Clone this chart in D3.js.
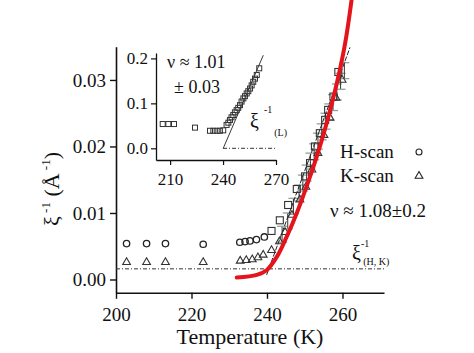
<!DOCTYPE html>
<html><head><meta charset="utf-8">
<script src="https://cdn.jsdelivr.net/npm/d3@7"></script>
<style>body{margin:0;background:#fff}svg{display:block}text{font-family:"Liberation Serif","Times New Roman",serif;fill:#111}</style>
</head><body><svg id="c" width="474" height="353"></svg>
<script>
// ---- main plot data ----
const xTicksMain = [200, 220, 240, 260];
const yTicksMain = [0.00, 0.01, 0.02, 0.03];
const hFlatT = [202.8, 208.1, 213.1, 223.1, 232.8, 234.2, 235.5, 237.2, 239.3];
const hFlatV = [0.0054, 0.0054, 0.0054, 0.0053, 0.0056, 0.0057, 0.0058, 0.0060, 0.0064];
const kFlatT = [202.8, 208.1, 213.1, 223.1, 232.9, 234.5, 236.1, 237.6, 239.0];
const kFlatV = [0.0026, 0.0026, 0.0026, 0.0026, 0.0028, 0.0029, 0.0030, 0.0033, 0.0037];
const sqT = [241.2, 243.4, 245.6, 247.9, 250.1, 251.4, 252.7, 254.0, 255.4, 256.2, 257.6, 258.9];
const sqV = [0.0073, 0.0089, 0.0112, 0.0136, 0.0155, 0.0175, 0.0200, 0.0220, 0.0240, 0.0255, 0.0275, 0.0312];
const triT = [241.2, 243.3, 244.8, 246.6, 248.7, 250.3, 251.9, 253.5, 255.1, 256.7, 258.3, 259.9];
const triV = [0.0044, 0.0057, 0.0071, 0.0097, 0.0120, 0.0139, 0.0165, 0.0190, 0.0217, 0.0243, 0.0273, 0.0300];
const errT = [244.0, 245.5, 247.0, 248.5, 249.5, 250.5, 251.5, 252.5, 253.5, 254.5, 255.5, 256.5, 257.5, 258.5, 259.5, 260.5];
const errV = [0.0068, 0.0088, 0.0110, 0.0130, 0.0145, 0.0160, 0.0178, 0.0192, 0.0208, 0.0222, 0.0238, 0.0252, 0.0266, 0.0282, 0.0298, 0.0314];
const fitT = [239.9, 262.0];
const fitV = [0.0007, 0.0349];
const baseT = [200, 271];
const baseV = [0.0016, 0.0016];
const redT = [232.0, 237.3, 239.9, 242.6, 245.2, 247.9, 250.5, 253.2, 255.8, 258.5, 260.7, 262.4];
const redV = [0.0003, 0.0007, 0.0014, 0.0034, 0.0064, 0.0100, 0.0140, 0.0185, 0.0235, 0.0295, 0.0355, 0.0420];
// ---- inset data ----
const insXTicks = [210, 240, 270];
const insYTicks = [0.0, 0.1, 0.2];
const insT = [205.8, 209.0, 212.2, 224.1, 232.6, 234.5, 236.4, 238.2, 240.1, 242.0, 243.0, 243.9, 244.8, 245.8, 246.7, 247.7, 248.6, 249.6, 250.5, 251.5, 252.4, 253.4, 254.3, 255.3, 256.2, 257.1, 258.1, 259.1, 260.5];
const insV = [0.054, 0.054, 0.054, 0.046, 0.039, 0.039, 0.039, 0.039, 0.040, 0.052, 0.057, 0.063, 0.069, 0.074, 0.080, 0.085, 0.090, 0.096, 0.104, 0.111, 0.116, 0.122, 0.127, 0.133, 0.140, 0.148, 0.155, 0.163, 0.178];
const insFitT = [240.1, 262.8];
const insFitV = [0.0, 0.207];
const insBaseT = [240, 270];
const insBaseV = [0.0, 0.0];

const svg = d3.select("#c");
const x = d3.scaleLinear().domain([200, 271]).range([116, 384]);
const y = d3.scaleLinear().domain([-0.002, 0.035]).range([292.8, 46.7]);

// axes
const xAxis = d3.axisBottom(x).tickValues(xTicksMain).tickFormat(d3.format("d")).tickSize(6).tickSizeOuter(0);
const xMinor = d3.axisBottom(x).tickValues(d3.range(200, 271, 4)).tickFormat("").tickSize(4).tickSizeOuter(0);
const gx = svg.append("g").attr("transform", "translate(0,292.8)");
gx.call(xMinor); gx.call(xAxis);
const yAxis = d3.axisLeft(y).tickValues(yTicksMain).tickFormat(d3.format(".2f")).tickSize(6).tickSizeOuter(0);
const yMinor = d3.axisLeft(y).tickValues(d3.range(0, 0.0351, 0.0025)).tickFormat("").tickSize(4).tickSizeOuter(0);
const gy = svg.append("g").attr("transform", "translate(116,0)");
gy.call(yMinor); gy.call(yAxis);
[gx, gy].forEach(g => {
  g.selectAll("path").attr("stroke", "#111").attr("stroke-width", 1.6);
  g.selectAll("line").attr("stroke", "#111").attr("stroke-width", 1.4);
  g.selectAll("text").style("font-size", "19px").attr("fill", "#111");
});
gx.selectAll("text").attr("dy", "1.0em");
gy.selectAll("text").attr("dx", "-1px");

// axis titles
svg.append("text").attr("x", 250).attr("y", 344).attr("text-anchor", "middle").style("font-size", "22px").text("Temperature (K)");
const yt = svg.append("text").attr("transform", "translate(59,189) rotate(-90)").attr("text-anchor", "middle").style("font-size", "22px");
yt.append("tspan").text("ξ");
yt.append("tspan").attr("dy", -9).style("font-size", "13px").text(" -1");
yt.append("tspan").attr("dy", 9).text(" (Å");
yt.append("tspan").attr("dy", -9).style("font-size", "13px").text(" -1");
yt.append("tspan").attr("dy", 9).text(")");

// baseline dash-dot
const line = d3.line().x(d => x(d[0])).y(d => y(d[1]));
svg.append("path").datum(d3.zip(baseT, baseV)).attr("d", line).attr("fill", "none").attr("stroke", "#333").attr("stroke-width", 1).attr("stroke-dasharray", "4,2,1,2");

// error bars
const eg = svg.append("g");
d3.zip(errT, errV).forEach(([t, v]) => {
  const cx = x(t);
  eg.append("line").attr("x1", cx).attr("x2", cx).attr("y1", y(v + 0.0012)).attr("y2", y(v - 0.0012)).attr("stroke", "#333").attr("stroke-width", 1);
  [v + 0.0012, v - 0.0012].forEach(e => eg.append("line").attr("x1", cx - 5).attr("x2", cx + 5).attr("y1", y(e)).attr("y2", y(e)).attr("stroke", "#8fa39a").attr("stroke-width", 1.3));
});

// fit line
svg.append("path").datum(d3.zip(fitT, fitV)).attr("d", line).attr("fill", "none").attr("stroke", "#222").attr("stroke-width", 1).attr("stroke-dasharray", "5,1.5");

// markers
const circ = svg.append("g");
d3.zip(hFlatT, hFlatV).forEach(([t, v]) => circ.append("circle").attr("cx", x(t)).attr("cy", y(v)).attr("r", 3.2).attr("fill", "none").attr("stroke", "#222").attr("stroke-width", 1.3));
const sq = svg.append("g");
d3.zip(sqT, sqV).forEach(([t, v]) => sq.append("rect").attr("x", x(t) - 3.5).attr("y", y(v) - 3.5).attr("width", 7).attr("height", 7).attr("fill", "none").attr("stroke", "#333").attr("stroke-width", 1.1));
const triPath = d3.symbol().type(d3.symbolTriangle).size(26);
const tri = svg.append("g");
d3.zip(kFlatT.concat(triT), kFlatV.concat(triV)).forEach(([t, v]) => tri.append("path").attr("d", triPath).attr("transform", `translate(${x(t)},${y(v)})`).attr("fill", "none").attr("stroke", "#333").attr("stroke-width", 1.1));

// red curve
svg.append("path").datum(d3.zip(redT, redV)).attr("d", line.curve(d3.curveCatmullRom)).attr("fill", "none").attr("stroke", "#e5141c").attr("stroke-width", 4).attr("stroke-linecap", "round");
line.curve(d3.curveLinear);

// legend
svg.append("text").attr("x", 340).attr("y", 158).style("font-size", "19px").text("H-scan");
svg.append("circle").attr("cx", 419).attr("cy", 152).attr("r", 3).attr("fill", "none").attr("stroke", "#222").attr("stroke-width", 1.1);
svg.append("text").attr("x", 340).attr("y", 182).style("font-size", "19px").text("K-scan");
svg.append("path").attr("d", triPath).attr("transform", "translate(419,176)").attr("fill", "none").attr("stroke", "#222").attr("stroke-width", 1.1);
svg.append("text").attr("x", 330).attr("y", 217).style("font-size", "19px").text("ν ≈ 1.08±0.2");
const xl = svg.append("text").attr("x", 352).attr("y", 260).style("font-size", "20px");
xl.append("tspan").text("ξ");
xl.append("tspan").attr("dy", -13).style("font-size", "10px").text("-1");
xl.append("tspan").attr("dx", -6).attr("dy", 18).style("font-size", "10px").text("(H, K)");

// ---- inset ----
const ix = d3.scaleLinear().domain([202, 270]).range([156, 276]);
const iy = d3.scaleLinear().domain([-0.026, 0.212]).range([160, 53]);
const igx = svg.append("g").attr("transform", "translate(0,160)");
igx.call(d3.axisBottom(ix).tickValues([220, 230, 250, 260]).tickFormat("").tickSize(3).tickSizeOuter(0));
igx.call(d3.axisBottom(ix).tickValues(insXTicks).tickFormat(d3.format("d")).tickSize(5).tickSizeOuter(0));
const igy = svg.append("g").attr("transform", "translate(156,0)");
igy.call(d3.axisLeft(iy).tickValues([0.05, 0.15]).tickFormat("").tickSize(3).tickSizeOuter(0));
igy.call(d3.axisLeft(iy).tickValues(insYTicks).tickFormat(d3.format(".1f")).tickSize(5).tickSizeOuter(0));
[igx, igy].forEach(g => {
  g.selectAll("path").attr("stroke", "#111").attr("stroke-width", 1.3);
  g.selectAll("line").attr("stroke", "#111").attr("stroke-width", 1.2);
  g.selectAll("text").style("font-size", "17px").attr("fill", "#111");
});
igx.selectAll("text").attr("dy", "1.0em");
const iline = d3.line().x(d => ix(d[0])).y(d => iy(d[1]));
svg.append("path").datum(d3.zip(insBaseT, insBaseV)).attr("d", iline).attr("fill", "none").attr("stroke", "#333").attr("stroke-width", 1).attr("stroke-dasharray", "4,2,1,2");
svg.append("path").datum(d3.zip(insFitT, insFitV)).attr("d", iline).attr("fill", "none").attr("stroke", "#222").attr("stroke-width", 0.9);
d3.zip(insT, insV).forEach(([t, v]) => svg.append("rect").attr("x", ix(t) - 2.5).attr("y", iy(v) - 2.5).attr("width", 5).attr("height", 5).attr("fill", "none").attr("stroke", "#333").attr("stroke-width", 1));
svg.append("text").attr("x", 167).attr("y", 68).style("font-size", "18px").text("ν ≈ 1.01");
svg.append("text").attr("x", 174).attr("y", 93).style("font-size", "18px").text("± 0.03");
const il = svg.append("text").attr("x", 250).attr("y", 128).style("font-size", "20px");
il.append("tspan").text("ξ");
il.append("tspan").attr("dx", 5).attr("dy", -15).style("font-size", "10px").text("-1");
il.append("tspan").attr("dx", 2).attr("dy", 23).style("font-size", "10px").text("(L)");
</script></body></html>
